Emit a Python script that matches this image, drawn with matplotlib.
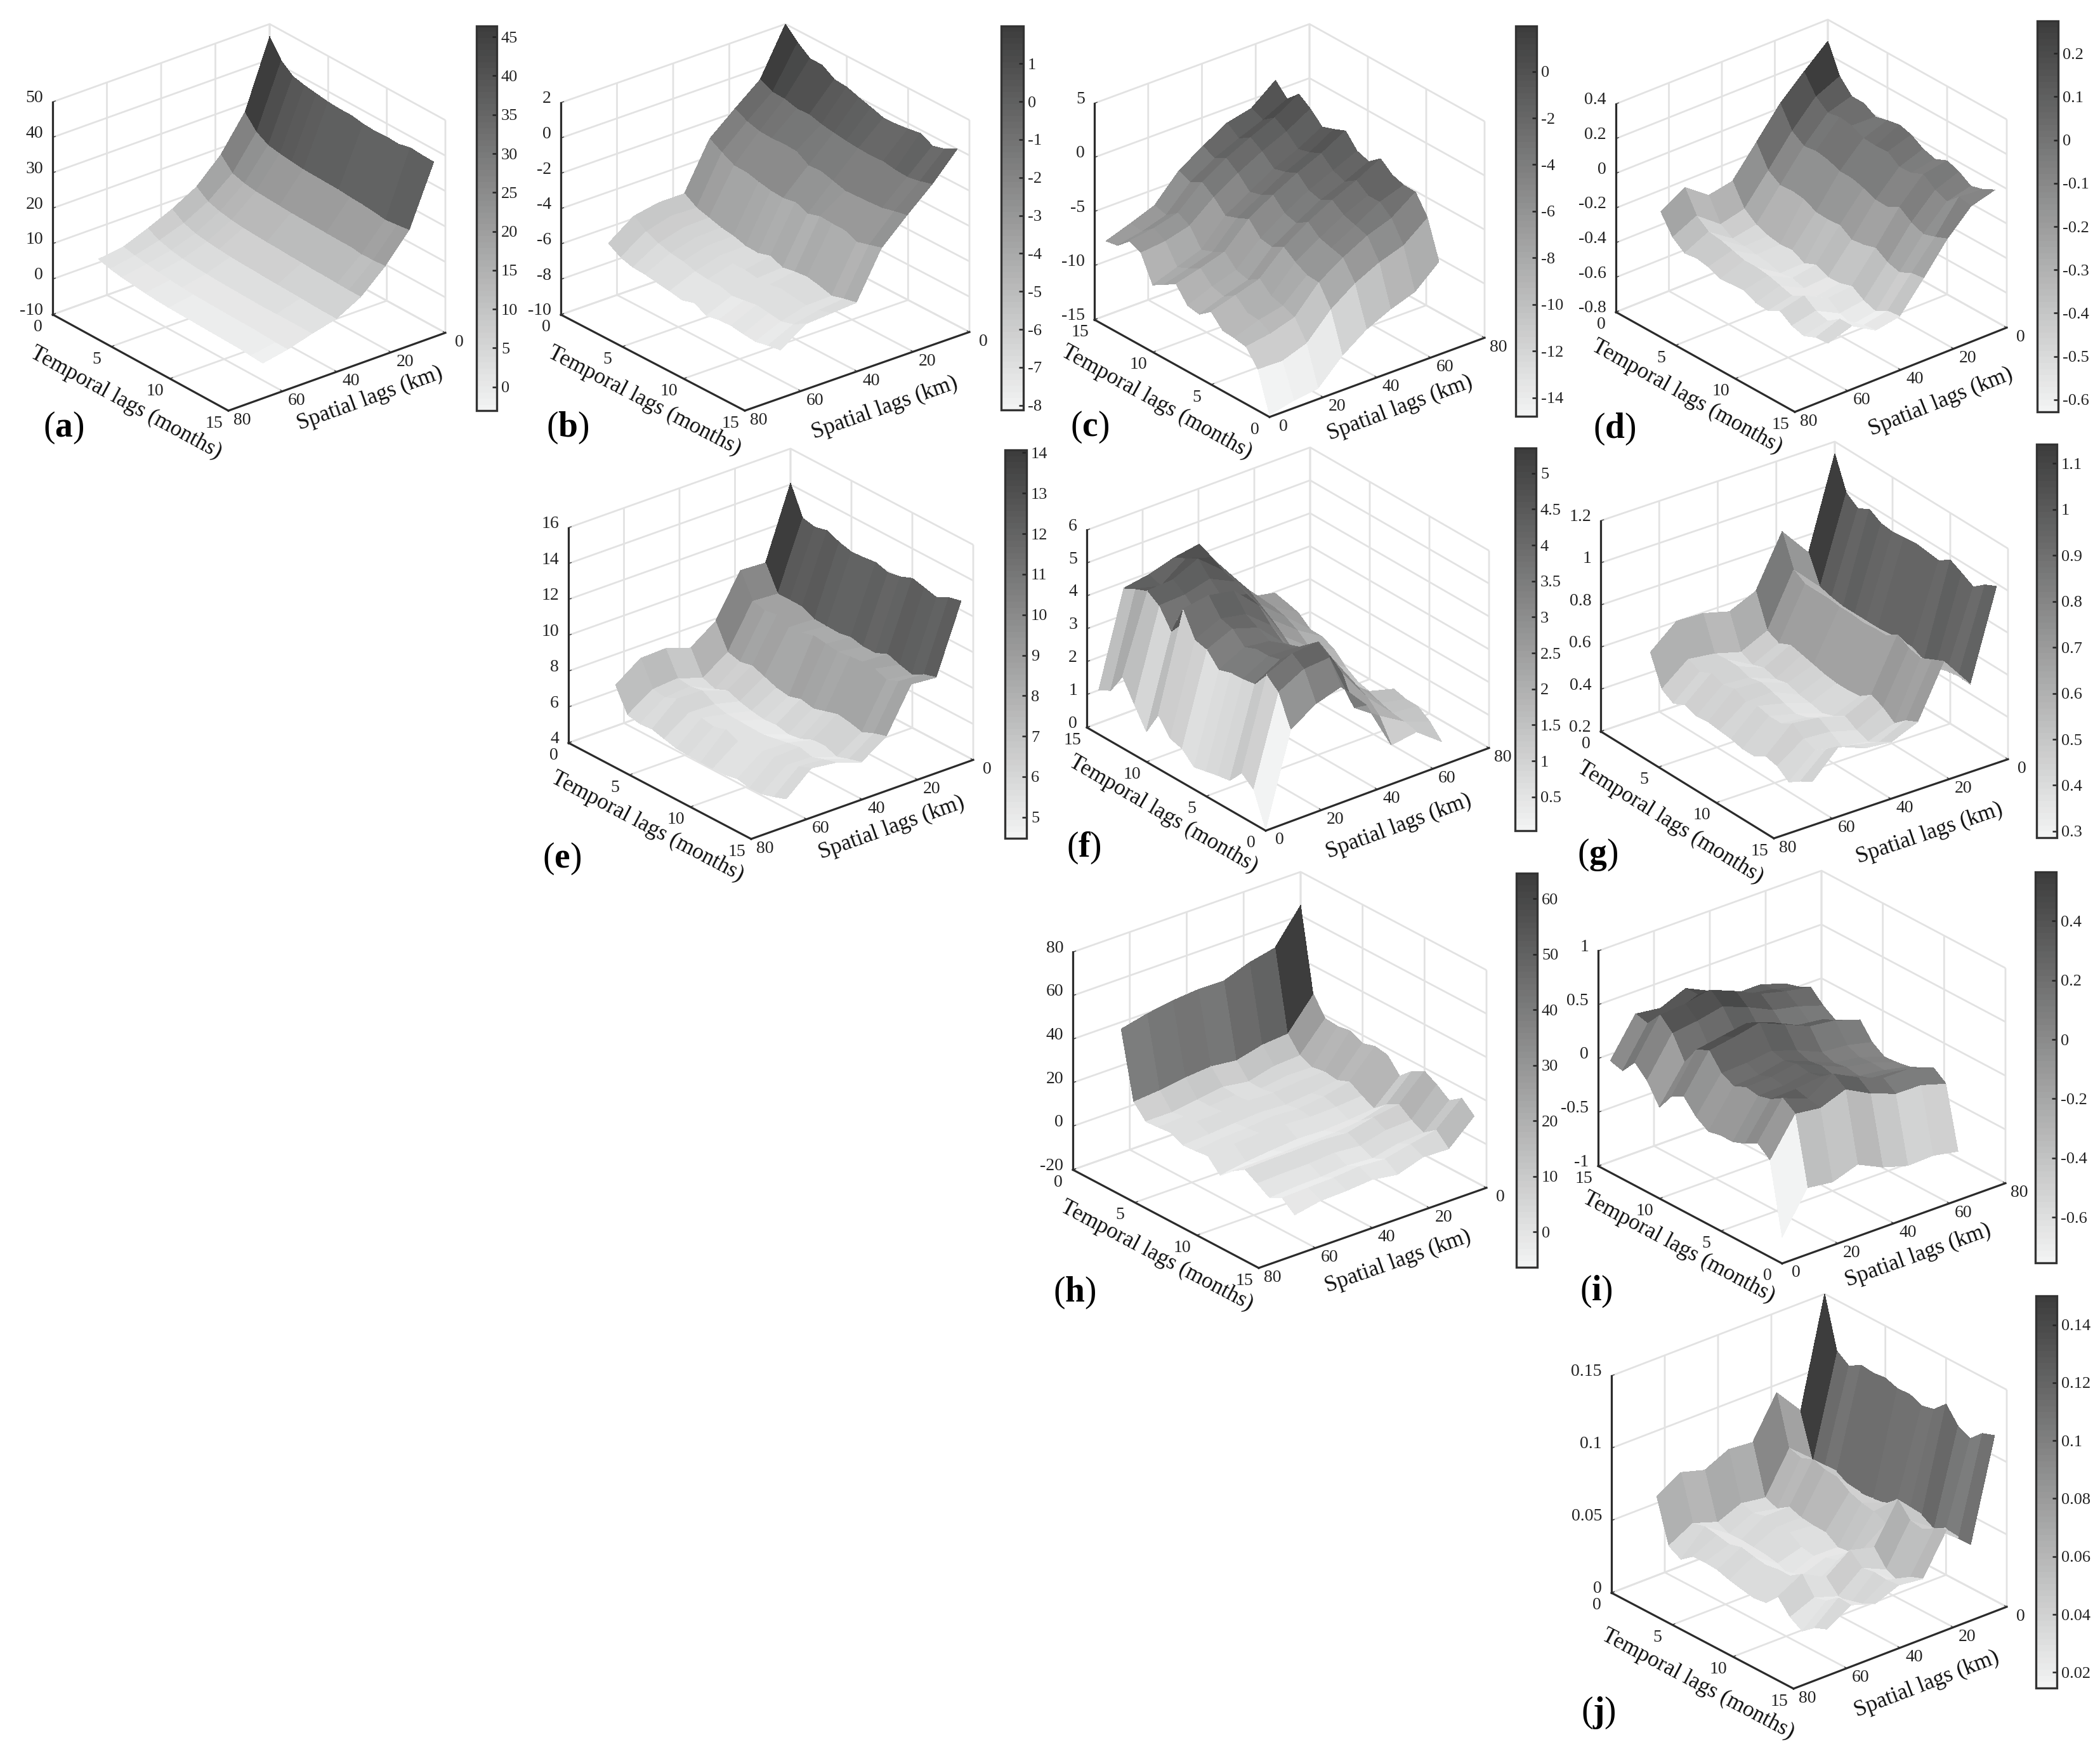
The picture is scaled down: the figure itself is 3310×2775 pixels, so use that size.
import numpy as np
import matplotlib
matplotlib.use("Agg")
import matplotlib.pyplot as plt
from matplotlib import cm
from matplotlib.colors import LinearSegmentedColormap, Normalize
from matplotlib.ticker import StrMethodFormatter
from mpl_toolkits.mplot3d import proj3d

W, H = 3310, 2775

plt.rcParams['font.family'] = ['Liberation Serif', 'DejaVu Serif']
plt.rcParams['axes.unicode_minus'] = False
plt.rcParams['mathtext.fontset'] = 'custom'
plt.rcParams['mathtext.bf'] = 'Liberation Serif:bold'
plt.rcParams['mathtext.rm'] = 'Liberation Serif'

# grid of the surfaces
s_lags = [0, 9, 18, 27, 36, 45, 54, 63]
t_lags = list(range(15))
s_ticks = [0, 20, 40, 60, 80]
t_ticks = [0, 5, 10, 15]

# one row per spatial lag, one column per temporal lag
z_a = [
    [46.4, 41.4, 38.8, 38, 37.5, 37, 36.8, 36.8, 36.2, 36, 36.2, 36, 36.8, 36.5, 36.4],
    [27.7, 23.9, 22, 21.4, 21, 20.6, 20.5, 20.4, 20.3, 20, 19.8, 19.5, 19, 19.4, 19.8],
    [18, 14.5, 13.5, 13, 12.8, 12.6, 12.4, 12.3, 12.2, 12.1, 12, 12, 11.6, 11.7, 11.9],
    [11.4, 9, 8, 7.4, 7, 6.8, 6.6, 6.5, 6.3, 6.2, 6, 6, 5.8, 5.7, 5.7],
    [7.6, 5.4, 4.3, 3.8, 3.4, 3.1, 2.9, 2.8, 2.6, 2.5, 2.4, 2.3, 2.1, 2, 2],
    [4.6, 3, 2, 1.4, 1, 0.8, 0.6, 0.5, 0.4, 0.3, 0.2, 0.3, 0.3, 0.3, 0.3],
    [1.9, 1.2, 0.6, 0.1, -0.3, -0.6, -0.8, -0.9, -1, -1.1, -1.2, -1.2, -1.4, -1.6, -1.7],
    [1, 0, -0.6, -1, -1.4, -1.7, -1.9, -2, -2.1, -2.2, -2.3, -2.4, -2.5, -2.8, -3.04],
]
z_b = [
    [1.99, 1.3, .77, .75, .3, .24, 0, -.2, -.43, -.4, -.32, -.2, -.56, -.37, 0],
    [-.65, -1, -1.03, -1.22, -1.19, -1.38, -1.5, -1.6, -1.66, -1.7, -1.66, -1.78, -1.83, -1.7, -1.5],
    [-1.8, -2.17, -2.36, -2.4, -2.36, -2.4, -2.84, -2.8, -3, -3.2, -3.16, -3.13, -3.08, -2.9, -2.76],
    [-3, -3.42, -3.8, -3.82, -4, -4.14, -4.19, -4.06, -4.35, -4.14, -4.19, -4.2, -4.5, -4.3, -4.1],
    [-5.6, -6.05, -6.25, -6.45, -6.56, -6.77, -6.8, -6.6, -6.9, -6.77, -6.7, -6.85, -7.05, -6.85, -6.7],
    [-5.6, -6, -6.3, -6.5, -6.6, -6.8, -6.9, -6.9, -7, -7, -6.9, -7, -7.1, -7, -6.8],
    [-5.87, -6.4, -6.7, -6.9, -7, -7.2, -7.3, -7.3, -7.5, -7.4, -7.3, -7.4, -7.5, -7.3, -6.9],
    [-6.9, -7.34, -7.54, -7.58, -7.7, -7.8, -7.94, -7.74, -8.1, -7.98, -7.94, -8.05, -8.12, -7.98, -7.87],
]
z_c = [
    [-14.8, -11.15, -9.7, -9.5, -9.4, -8.26, -9.1, -8.9, -7.5, -8.15, -8.8, -6.43, -5.94, -6.94, -7.13],
    [-14.3, -11.2, -9.34, -8.7, -8.6, -7.6, -8.3, -8, -6.9, -7.5, -8, -6.2, -5.6, -6.5, -6.35],
    [-14, -10.4, -8.67, -8.2, -7.9, -6.9, -7.6, -7.3, -6.2, -6.8, -7.2, -5.6, -5, -5.8, -5.5],
    [-11.8, -8.1, -6.27, -6.2, -5.6, -4.8, -5.4, -5.2, -4, -4.5, -4.9, -3.8, -3, -3.6, -3.14],
    [-10.2, -6.5, -4.8, -4.5, -4.2, -3.3, -4, -3.7, -2.6, -3.2, -3.5, -2.4, -1.6, -2.2, -1.68],
    [-9.15, -5.4, -3.6, -3.25, -2.9, -2.1, -2.7, -2.4, -1.4, -1.9, -2.2, -1.2, -.5, -1.2, -.34],
    [-8.37, -4.65, -2.8, -1.9, -1.9, -1.1, -1.8, -1.4, -.4, -.9, -1.2, -.2, .5, -.3, .17],
    [-6.4, -2.9, -1.2, -1.15, -.8, .1, -.77, -.4, .88, .42, .04, 1.1, 1.87, .82, 1.95],
]
z_d = [
    [.275, .11, .034, .033, -.008, .01, .023, .003, -.04, -.06, -.03, -.057, -.1, -.08, -.044],
    [.153, .047, -.008, .006, -.005, -.04, -.044, -.04, -.09, -.085, -.055, -.108, -.135, -.07, -.083],
    [.025, -.097, -.145, -.135, -.147, -.175, -.176, -.196, -.224, -.227, -.19, -.24, -.268, -.246, -.217],
    [-.145, -.27, -.315, -.31, -.32, -.356, -.36, -.354, -.4, -.39, -.37, -.415, -.434, -.4, -.39],
    [-.313, -.436, -.488, -.514, -.526, -.52, -.557, -.527, -.56, -.557, -.535, -.58, -.604, -.563, -.555],
    [-.34, -.47, -.514, -.52, -.53, -.54, -.56, -.55, -.57, -.58, -.55, -.6, -.628, -.59, -.58],
    [-.24, -.366, -.42, -.43, -.45, -.47, -.47, -.48, -.5, -.52, -.48, -.53, -.55, -.5, -.5],
    [-.325, -.434, -.487, -.477, -.49, -.52, -.514, -.51, -.544, -.55, -.513, -.56, -.58, -.55, -.545],
]
z_e = [
    [14.07, 12.48, 12.33, 12.5, 12.2, 12.02, 12.07, 12.15, 11.94, 12.07, 12.34, 12.16, 11.98, 12.34, 12.5],
    [10.12, 8.75, 8.75, 8.74, 8.4, 8.37, 8.34, 8.46, 8.3, 8.3, 8.6, 8.36, 8.17, 8.54, 8.74],
    [10.2, 8.83, 8.65, 8.78, 8.45, 8.5, 8.7, 8.6, 8.5, 8.6, 8.66, 8.63, 8.37, 8.66, 8.86],
    [7.85, 6.48, 6.3, 6.44, 6.18, 5.92, 5.8, 6, 5.84, 6.04, 6.24, 6.13, 5.95, 6.24, 6.44],
    [6.87, 5.53, 5.27, 5.56, 5.3, 5.12, 5.01, 5.06, 4.9, 5, 5.3, 5.33, 5.07, 5.3, 5.5],
    [7.33, 6.02, 5.92, 6.05, 5.64, 5.46, 5.43, 5.4, 5.38, 5.5, 5.63, 5.75, 5.56, 5.78, 5.98],
    [7.28, 5.9, 5.8, 6.09, 5.67, 5.72, 5.6, 5.8, 5.49, 5.46, 5.66, 5.7, 5.6, 5.89, 6.16],
    [6.29, 4.98, 4.84, 4.9, 4.72, 4.54, 4.5, 4.48, 4.48, 4.5, 4.63, 4.48, 4.5, 4.7, 4.94],
]
z_f = [
    [.04, 1.04, 1.34, .9, .84, .76, .68, 1.03, 1.13, 1.64, .92, 1.53, 2.18, 1.54, 1.35],
    [2.81, 3.72, 4.05, 3.56, 3.5, 3.48, 3.36, 3.76, 3.85, 4.58, 3.69, 4.26, 4.5, 4.35, 4.16],
    [3.3, 4.13, 4.39, 4, 3.9, 3.9, 3.75, 4.1, 4.2, 4.7, 3.95, 4.3, 4.55, 4.15, 4.29],
    [3.53, 4.19, 4.46, 3.95, 3.85, 3.8, 3.65, 3.85, 4.05, 4.55, 4.15, 4.5, 4.9, 4.7, 4.52],
    [2.69, 2.4, 3.22, 3.53, 3.77, 3.36, 3.2, 3.12, 3.43, 3.82, 3.96, 4.13, 4.26, 4.45, 4.65],
    [1.19, 1.86, 2.2, 2.4, 2.3, 2.2, 2.05, 2, 2.25, 2.6, 2.9, 3.15, 3.4, 3.5, 3.57],
    [1.31, 1.4, 1.45, 1.55, 1.7, 1.4, 1.35, 1.5, 1.8, 2, 2.3, 2.5, 2.6, 2.55, 2.47],
    [.73, 1.13, 1.38, 1.39, 1.49, 1.1, .98, 1.07, 1.3, 1.64, 1.82, 1.83, 2.13, 2.23, 2.32],
]
z_g = [
    [1.142, .99, .95, .98, .947, .94, .947, .954, .947, .94, .976, .947, .916, .96, .987],
    [.715, .585, .57, .56, .56, .56, .56, .565, .57, .57, .54, .54, .56, .57, .565],
    [.857, .709, .675, .675, .675, .668, .668, .662, .668, .668, .706, .675, .662, .689, .715],
    [.617, .462, .436, .462, .449, .436, .422, .415, .415, .422, .462, .436, .395, .442, .469],
    [.562, .403, .376, .396, .376, .39, .37, .363, .35, .37, .403, .37, .35, .383, .417],
    [.596, .438, .445, .445, .425, .438, .425, .405, .39, .405, .438, .405, .37, .41, .43],
    [.602, .454, .427, .454, .434, .448, .42, .434, .42, .42, .454, .414, .394, .434, .48],
    [.496, .355, .321, .348, .328, .335, .328, .321, .308, .308, .341, .328, .286, .324, .355],
]
z_h = [
    [64.6, 27, 18.6, 18, 19, 16.2, 17.9, 16.9, 10.2, 15.5, 18.5, 15.2, 11, 15.1, 9.9],
    [49.2, 13, 5.7, 3.3, 4.3, 3.4, 5.7, 2.2, -.6, 4.3, 7.3, 3.1, .3, 4.6, -1],
    [46.6, 12, 5, 3.5, 4, 1.5, 3, 1.2, -1.8, 1, 5.5, 2.5, -.5, 2.2, -.6],
    [42.3, 9, 2, 1.8, 2.8, .4, 1.5, .8, -2.5, -.3, 2.6, -.5, -3.2, -.5, -4.5],
    [42.5, 10.4, 3.7, 3, 3.3, 1, 2.2, 1.5, -2.2, -.5, 3.3, .5, -2.4, .3, -2.7],
    [41.5, 9.4, 2, 2, 2.6, .2, 1, 1.6, -3.2, -1, 3, -.4, -3.4, -.8, -3.7],
    [39.6, 7.7, .3, 1.4, 2, -.8, .4, .8, -4.5, -1.2, 2.8, -.6, -3.8, -1.2, -4.1],
    [36.8, 6.7, .3, .7, 1.3, -1.5, -1.1, -.4, -6.4, -1.3, 2.4, -1.1, -4.7, -1.7, -6.4],
]
z_i = [
    [-.754, -.095, 0, -.066, -.11, -.11, -.134, -.06, .07, .013, -.15, .037, .147, .008, .04],
    [-.38, .25, .33, .26, .23, .25, .2, .26, .41, .36, .18, .39, .5, .36, .39],
    [-.41, .22, .24, .27, .24, .26, .22, .27, .45, .4, .22, .42, .52, .37, .36],
    [-.33, .31, .39, .3, .28, .3, .27, .3, .5, .44, .3, .47, .566, .46, .46],
    [-.44, .187, .27, .2, .17, .2, .18, .22, .4, .36, .23, .38, .47, .37, .35],
    [-.51, .1, .18, .12, .08, .1, .08, .12, .3, .25, .15, .27, .36, .3, .245],
    [-.5, .097, .18, .1, .05, .06, .05, .1, .27, .22, .12, .22, .3, .26, .245],
    [-.545, .026, .11, .05, 0, -.02, -.03, .045, .195, .13, .07, .145, .255, .2, .166],
]
z_j = [
    [.15, .115, .109, .114, .113, .114, .111, .1116, .108, .11, .118, .107, .103, .111, .114],
    [.0757, .0466, .0465, .047, .042, .041, .0416, .043, .05, .0476, .048, .043, .0476, .0447, .045],
    [.0944, .0607, .058, .0614, .0586, .058, .052, .049, .0475, .0437, .0646, .0546, .053, .058, .0617],
    [.0665, .033, .0294, .035, .032, .031, .0307, .0248, .026, .0316, .038, .027, .0233, .0308, .034],
    [.068, .0355, .0327, .035, .032, .0326, .0267, .025, .0284, .031, .0424, .0345, .036, .035, .036],
    [.06, .0285, .0247, .025, .0243, .0236, .0218, .018, .0224, .0207, .03, .0213, .0206, .025, .0294],
    [.0648, .034, .036, .0345, .0327, .035, .033, .0316, .033, .033, .0387, .0267, .029, .0355, .035],
    [.0547, .0248, .02, .0264, .0267, .026, .0233, .0215, .0198, .021, .0296, .0197, .0146, .0213, .0247],
]

# letter, data, z ticks, colour limits, colourbar ticks, flipped view
panels = [
    ('a', z_a, [-10, 0, 10, 20, 30, 40, 50], (-3.04, 46.4), [0, 5, 10, 15, 20, 25, 30, 35, 40, 45], False),
    ('b', z_b, [-10, -8, -6, -4, -2, 0, 2], (-8.12, 1.99), [-8, -7, -6, -5, -4, -3, -2, -1, 0, 1], False),
    ('c', z_c, [-15, -10, -5, 0, 5], (-14.8, 1.95), [-14, -12, -10, -8, -6, -4, -2, 0], True),
    ('d', z_d, [-.8, -.6, -.4, -.2, 0, .2, .4], (-.628, .275), [-.6, -.5, -.4, -.3, -.2, -.1, 0, .1, .2], False),
    ('e', z_e, [4, 6, 8, 10, 12, 14, 16], (4.48, 14.07), [5, 6, 7, 8, 9, 10, 11, 12, 13, 14], False),
    ('f', z_f, [0, 1, 2, 3, 4, 5, 6], (.03, 5.35), [.5, 1, 1.5, 2, 2.5, 3, 3.5, 4, 4.5, 5], True),
    ('g', z_g, [.2, .4, .6, .8, 1, 1.2], (.286, 1.142), [.3, .4, .5, .6, .7, .8, .9, 1, 1.1], False),
    ('h', z_h, [-20, 0, 20, 40, 60, 80], (-6.4, 64.6), [0, 10, 20, 30, 40, 50, 60], False),
    ('i', z_i, [-1, -.5, 0, .5, 1], (-.754, .566), [-.6, -.4, -.2, 0, .2, .4], True),
    ('j', z_j, [0, .05, .1, .15], (.0146, .15), [.02, .04, .06, .08, .1, .12, .14], False),
]

# pixel layout: left floor corner, left top y, front corner, right floor corner
boxes = {
    'a': ((83, 497), 162, (360, 647), (702, 523)),
    'b': ((884, 497), 163, (1174, 647), (1528, 522)),
    'c': ((1725, 505), 164, (2001, 657), (2340, 531)),
    'd': ((2547, 493), 165, (2829, 649), (3163, 515)),
    'e': ((896, 1171), 832, (1184, 1322), (1534, 1197)),
    'f': ((1713, 1146), 835, (1995, 1309), (2347, 1179)),
    'g': ((2523, 1153), 821, (2796, 1321), (3165, 1196)),
    'h': ((1691, 1844), 1501, (1984, 1998), (2343, 1871)),
    'i': ((2519, 1837), 1498, (2809, 1991), (3161, 1865)),
    'j': ((2540, 2510), 2168, (2827, 2661), (3163, 2532)),
}
# colourbar x0, x1, y0, y1 in pixels
bars = {
    'a': (751, 783, 41, 647), 'b': (1578, 1613, 41, 646), 'c': (2389, 2422, 41, 656),
    'd': (3211, 3244, 33, 649), 'e': (1584, 1618, 709, 1321), 'f': (2388, 2421, 706, 1309),
    'g': (3210, 3242, 700, 1320), 'h': (2390, 2423, 1376, 1997), 'i': (3208, 3241, 1374, 1990),
    'j': (3209, 3242, 2042, 2660),
}
# temporal label, spatial label, panel letter centres in pixels
label_pos = {
    'a': ((198, 635), (583, 628), (100, 674)),
    'b': ((1016, 632), (1395, 643), (895, 674)),
    'c': ((1823, 634), (2207, 643), (1718, 673)),
    'd': ((2659, 625), (3059, 634), (2545, 676)),
    'e': ((1020, 1303), (1405, 1305), (886, 1353)),
    'f': ((1834, 1283), (2205, 1303), (1708, 1336)),
    'g': ((2633, 1296), (3041, 1314), (2518, 1347)),
    'h': ((1823, 1979), (2204, 1988), (1694, 2037)),
    'i': ((2646, 1966), (3023, 1979), (2516, 2035)),
    'j': ((2676, 2654), (3037, 2654), (2519, 2699)),
}

cmap = LinearSegmentedColormap.from_list('greys', ['#f2f3f3', '#3d3d3d'], N=64)
grid_col = '#e2e2e2'
dark = '#2b2b2b'
text_col = '#222222'


def to_display(ax, x, y, z):
    px, py, _z = proj3d.proj_transform(x, y, z, ax.get_proj())
    return ax.transData.transform((px, py))


def place_axes(ax, box):
    """Move and scale the 3D axes until its box sits on the wanted pixels."""
    left, top_y, front, right = box
    xl, yl, zl = ax.get_xlim(), ax.get_ylim(), ax.get_zlim()
    back = (left[0] + right[0] - front[0], left[1] + right[1] - front[1])
    back_top_y = back[1] - (left[1] - top_y)
    target = np.array([[left[0], H - left[1]], [front[0], H - front[1]], [right[0], H - right[1]],
                       [back[0], H - back_top_y]], dtype=float)
    if ax.azim > 0:
        corners = [(xl[1], yl[0]), (xl[1], yl[1]), (xl[0], yl[1]), (xl[0], yl[0])]
    else:
        corners = [(xl[0], yl[1]), (xl[0], yl[0]), (xl[1], yl[0]), (xl[1], yl[1])]
    zs = [zl[0], zl[0], zl[0], zl[1]]
    S, cx, cy = 1000.0, W / 2, H / 2
    for _ in range(3):
        ax.set_position([(cx - S / 2) / W, (cy - S / 2) / H, S / W, S / H])
        ax.apply_aspect()
        pts = np.array([to_display(ax, x, y, z) for (x, y), z in zip(corners, zs)])
        k = np.ptp(target[:, 0]) / np.ptp(pts[:, 0])
        S *= k
        cx += target.mean(axis=0)[0] - (pts.mean(axis=0)[0] - cx) * k - cx
        cy += target.mean(axis=0)[1] - (pts.mean(axis=0)[1] - cy) * k - cy
    ax.set_position([(cx - S / 2) / W, (cy - S / 2) / H, S / W, S / H])
    ax.apply_aspect()


def tick_text(ax, x, y, z, dx, dy, label, ha='center'):
    """Tick label next to a projected tick, mplot3d's own labels sit too far off."""
    p = to_display(ax, x, y, z)
    fig.text((p[0] + dx) / W, (p[1] - dy) / H, label, fontsize=20, color=text_col, ha=ha, va='center')


fig = plt.figure(figsize=(W / 100, H / 100), dpi=100, facecolor='white')

X, Y = np.meshgrid(s_lags, t_lags, indexing='ij')

for letter, z_rows, zticks, clim, bar_ticks, flipped in panels:
    Z = np.array(z_rows)
    left, top_y, front, right = boxes[letter]
    dx1, dy1 = front[0] - left[0], front[1] - left[1]
    dx2, dy2 = right[0] - front[0], front[1] - right[1]
    L = np.hypot(dx1, dx2)
    sin_el = (dy1 / dx2 + dy2 / dx1) / 2
    elev = np.degrees(np.arcsin(sin_el))
    azim = np.degrees(np.arctan2(-dx2, -dx1)) if flipped else np.degrees(np.arctan2(dx2, dx1))
    z_ratio = (left[1] - top_y) / np.cos(np.radians(elev)) / L

    ax = fig.add_axes([0, 0, 0.2, 0.2], projection='3d', proj_type='ortho')
    ax.patch.set_visible(False)
    ax.set_box_aspect((1, 1, z_ratio))
    ax.view_init(elev=elev, azim=azim)

    norm = Normalize(*clim)
    ax.plot_surface(X, Y, Z, facecolors=cmap(norm(Z)), rstride=1, cstride=1,
                    shade=False, linewidth=0, antialiased=False)

    ax.set_xlim(0, 80, view_margin=0)
    ax.set_ylim(0, 15, view_margin=0)
    ax.set_zlim(zticks[0], zticks[-1], view_margin=0)
    ax.set_xticks(s_ticks)
    ax.set_yticks(t_ticks)
    ax.set_zticks(zticks)
    ax.set_xticklabels([])
    ax.set_yticklabels([])
    ax.set_zticklabels([])

    for axis in (ax.xaxis, ax.yaxis, ax.zaxis):
        axis.set_pane_color((1, 1, 1, 0))
        axis.pane.set_edgecolor(grid_col)
        axis.pane.set_linewidth(2.0)
        axis.line.set_color(dark)
        axis.line.set_linewidth(2.3)
        axis._axinfo['grid'].update(color=grid_col, linewidth=2.0)
        axis._axinfo['tick'].update(inward_factor=0.0, outward_factor=0.16)
    ax.tick_params(axis='both', width=2.2, color=dark)

    place_axes(ax, boxes[letter])

    # the floor edges that carry the ticks depend on the view
    t_edge = 80 if not flipped else 0
    s_edge = 15 if not flipped else 0
    for s in s_ticks:
        tick_text(ax, s, s_edge, zticks[0], 22, 15, '%g' % s)
    for t in t_ticks:
        tick_text(ax, t_edge, t, zticks[0], -23, 20, '%g' % t)
    z_s, z_t = (80, 0) if not flipped else (0, 15)
    for z in zticks:
        tick_text(ax, z_s, z_t, z, -15, -6, '%g' % z, ha='right')

    # colourbar
    x0, x1, y0, y1 = bars[letter]
    cax = fig.add_axes([x0 / W, 1 - y1 / H, (x1 - x0) / W, (y1 - y0) / H])
    cb = fig.colorbar(cm.ScalarMappable(norm=norm, cmap=cmap), cax=cax)
    cb.set_ticks(bar_ticks)
    cb.ax.yaxis.set_major_formatter(StrMethodFormatter('{x:g}'))
    cb.ax.tick_params(direction='in', length=5, width=1.8, color=text_col, labelsize=19,
                      labelcolor=text_col, pad=5)
    cb.outline.set_edgecolor('#333333')
    cb.outline.set_linewidth(2.4)

    # axis titles and panel letter
    tpos, spos, lpos = label_pos[letter]
    fig.text(tpos[0] / W, 1 - tpos[1] / H, 'Temporal lags (months)', fontsize=25.5, color='#111111',
             rotation=-np.degrees(np.arctan2(dy1, dx1)), rotation_mode='anchor', ha='center', va='center')
    fig.text(spos[0] / W, 1 - spos[1] / H, 'Spatial lags (km)', fontsize=25.5, color='#111111',
             rotation=np.degrees(np.arctan2(dy2, dx2)), rotation_mode='anchor', ha='center', va='center')
    fig.text(lpos[0] / W, 1 - lpos[1] / H, '($\\mathbf{%s}$)' % letter, fontsize=40, color='black',
             ha='center', va='center')

fig.savefig('out.png', dpi=100, facecolor='white')
